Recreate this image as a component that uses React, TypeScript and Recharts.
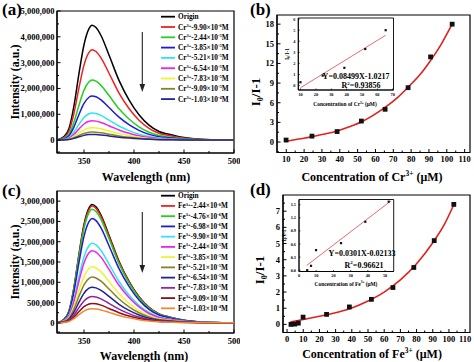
import React from 'react';
import {
  LineChart,
  ComposedChart,
  Line,
  Scatter,
  XAxis,
  YAxis,
  ReferenceArea,
} from 'recharts';

const FONT = '"Liberation Serif", "Times New Roman", serif';

// ---------- Panel (a): Cr3+ emission spectra ----------
const wavelengths = [323, 330, 335, 340, 345, 350, 355, 358, 362, 367, 375, 385, 395, 405, 415, 425, 435, 445, 460, 480, 500];

const crOrigin = [0, 134000, 445000, 1335000, 2581000, 3694000, 4317000, 4450000, 4361000, 4050000, 3293000, 2314000, 1558000, 979000, 579000, 334000, 223000, 134000, 53000, 13000, 0];
const cr990e6 = [0, 105000, 350000, 1050000, 2030000, 2905000, 3395000, 3500000, 3430000, 3185000, 2590000, 1820000, 1225000, 770000, 455000, 263000, 175000, 105000, 42000, 11000, 0];
const cr244e5 = [0, 70000, 233000, 699000, 1351000, 1934000, 2260000, 2330000, 2283000, 2120000, 1724000, 1212000, 816000, 513000, 303000, 175000, 117000, 70000, 28000, 7000, 0];
const cr385e5 = [0, 51000, 171000, 513000, 992000, 1419000, 1659000, 1710000, 1676000, 1556000, 1265000, 889000, 599000, 376000, 222000, 128000, 86000, 51000, 21000, 5000, 0];
const cr521e5 = [0, 32000, 105000, 315000, 609000, 872000, 1019000, 1050000, 1029000, 956000, 777000, 546000, 368000, 231000, 137000, 79000, 53000, 32000, 13000, 3000, 0];
const cr654e5 = [0, 23000, 75000, 225000, 435000, 623000, 728000, 750000, 735000, 683000, 555000, 390000, 263000, 165000, 98000, 56000, 38000, 23000, 9000, 2000, 0];
const cr783e5 = [0, 14000, 48000, 144000, 278000, 398000, 466000, 480000, 470000, 437000, 355000, 250000, 168000, 106000, 62000, 36000, 24000, 14000, 6000, 1000, 0];
const cr909e5 = [0, 9000, 31000, 93000, 180000, 257000, 301000, 310000, 304000, 282000, 229000, 161000, 109000, 68000, 40000, 23000, 16000, 9000, 4000, 1000, 0];
const cr103e4 = [0, 7000, 22000, 66000, 128000, 183000, 213000, 220000, 216000, 200000, 163000, 114000, 77000, 48000, 29000, 17000, 11000, 7000, 3000, 1000, 0];

const crSeries = [crOrigin, cr990e6, cr244e5, cr385e5, cr521e5, cr654e5, cr783e5, cr909e5, cr103e4];
const crLabels = [
  'Origin',
  'Cr^{3+}-9.90×10^{-6}M',
  'Cr^{3+}-2.44×10^{-5}M',
  'Cr^{3+}-3.85×10^{-5}M',
  'Cr^{3+}-5.21×10^{-5}M',
  'Cr^{3+}-6.54×10^{-5}M',
  'Cr^{3+}-7.83×10^{-5}M',
  'Cr^{3+}-9.09×10^{-5}M',
  'Cr^{3+}-1.03×10^{-4}M',
];
const crColors = ['#000000', '#f02020', '#22d022', '#1c1cd0', '#30e4f0', '#ee22ee', '#f2f230', '#84842a', '#24248e'];
const crYTicks = [0, 1000000, 2000000, 3000000, 4000000, 5000000];
const crYMinor = [500000, 1500000, 2500000, 3500000, 4500000];

// ---------- Panel (c): Fe3+ emission spectra ----------
const feOrigin = [0, 88000, 292000, 876000, 1694000, 2424000, 2832000, 2920000, 2862000, 2657000, 2161000, 1518000, 1022000, 642000, 380000, 219000, 146000, 88000, 35000, 9000, 0];
const fe244e6 = [0, 86000, 288000, 864000, 1670000, 2390000, 2794000, 2880000, 2822000, 2621000, 2131000, 1498000, 1008000, 634000, 374000, 216000, 144000, 86000, 35000, 9000, 0];
const fe476e6 = [0, 84000, 280000, 840000, 1624000, 2324000, 2716000, 2800000, 2744000, 2548000, 2072000, 1456000, 980000, 616000, 364000, 210000, 140000, 84000, 34000, 8000, 0];
const fe698e6 = [0, 77000, 257000, 771000, 1491000, 2133000, 2493000, 2570000, 2519000, 2339000, 1902000, 1336000, 900000, 565000, 334000, 193000, 129000, 77000, 31000, 8000, 0];
const fe990e6 = [0, 59000, 196000, 588000, 1137000, 1627000, 1901000, 1960000, 1921000, 1784000, 1450000, 1019000, 686000, 431000, 255000, 147000, 98000, 59000, 24000, 6000, 0];
const fe244e5 = [0, 53000, 178000, 534000, 1032000, 1477000, 1727000, 1780000, 1744000, 1620000, 1317000, 926000, 623000, 392000, 231000, 134000, 89000, 53000, 21000, 5000, 0];
const fe385e5 = [0, 41000, 138000, 414000, 800000, 1145000, 1339000, 1380000, 1352000, 1256000, 1021000, 718000, 483000, 304000, 179000, 104000, 69000, 41000, 17000, 4000, 0];
const fe521e5 = [0, 34000, 113000, 339000, 655000, 938000, 1096000, 1130000, 1107000, 1028000, 836000, 588000, 396000, 249000, 147000, 85000, 57000, 34000, 14000, 3000, 0];
const fe654e5 = [0, 26000, 88000, 264000, 510000, 730000, 854000, 880000, 862000, 801000, 651000, 458000, 308000, 194000, 114000, 66000, 44000, 26000, 11000, 3000, 0];
const fe783e5 = [0, 20000, 65000, 195000, 377000, 540000, 631000, 650000, 637000, 592000, 481000, 338000, 228000, 143000, 85000, 49000, 33000, 20000, 8000, 2000, 0];
const fe909e5 = [0, 14000, 48000, 144000, 278000, 398000, 466000, 480000, 470000, 437000, 355000, 250000, 168000, 106000, 62000, 36000, 24000, 14000, 6000, 1000, 0];
const fe103e4 = [0, 11000, 35000, 105000, 203000, 291000, 340000, 350000, 343000, 319000, 259000, 182000, 123000, 77000, 46000, 26000, 18000, 11000, 4000, 1000, 0];

const feSeries = [feOrigin, fe244e6, fe476e6, fe698e6, fe990e6, fe244e5, fe385e5, fe521e5, fe654e5, fe783e5, fe909e5, fe103e4];
const feLabels = [
  'Origin',
  'Fe^{3+}-2.44×10^{-6}M',
  'Fe^{3+}-4.76×10^{-6}M',
  'Fe^{3+}-6.98×10^{-6}M',
  'Fe^{3+}-9.90×10^{-6}M',
  'Fe^{3+}-2.44×10^{-5}M',
  'Fe^{3+}-3.85×10^{-5}M',
  'Fe^{3+}-5.21×10^{-5}M',
  'Fe^{3+}-6.54×10^{-5}M',
  'Fe^{3+}-7.83×10^{-5}M',
  'Fe^{3+}-9.09×10^{-5}M',
  'Fe^{3+}-1.03×10^{-4}M',
];
const feColors = ['#000000', '#f02020', '#22d022', '#1c1cd0', '#30e4f0', '#ee22ee', '#f2f230', '#84842a', '#24248e', '#9424a4', '#8a1020', '#f08a30'];
const feYTicks = [0, 500000, 1000000, 1500000, 2000000, 2500000, 3000000];
const feYMinor = [250000, 750000, 1250000, 1750000, 2250000, 2750000];
const waveTicks = [350, 400, 450, 500];
const waveMinor = [325, 375, 425, 475];

// ---------- Panel (b): Cr3+ I0/I-1 ----------
const crConc = [9.9, 24.4, 38.5, 52.1, 65.4, 78.3, 90.9, 103];
const crRatio = [0.3, 0.9, 1.6, 3.2, 5.0, 8.3, 13.0, 18.0];
const crFitX = [10, 17, 24.4, 31, 38.5, 45, 52, 58, 65, 72, 78, 85, 91, 97, 103];
const crFitY = [0.1, 0.45, 0.8, 1.2, 1.7, 2.3, 3.05, 3.95, 5.2, 6.7, 8.3, 10.3, 12.5, 15.0, 18.0];
const crXTicks = [10, 20, 30, 40, 50, 60, 70, 80, 90, 100, 110];
const crXMinor = [15, 25, 35, 45, 55, 65, 75, 85, 95, 105];
const crRatioTicks = [0, 3, 6, 9, 12, 15, 18];
const crRatioMinor = [-1.5, 1.5, 4.5, 7.5, 10.5, 13.5, 16.5];
// inset (b)
const crInsetX = [9.9, 24.4, 38.5, 52.1, 65.4];
const crInsetY = [0.3, 0.9, 1.6, 3.3, 5.0];
const crInsetLineX = [9.9, 65.4];
const crInsetLineY = [-0.2, 4.54];
const crInsetXTicks = [10, 20, 30, 40, 50, 60, 70];
const crInsetYTicks = [0, 1, 2, 3, 4, 5, 6];

// ---------- Panel (d): Fe3+ I0/I-1 ----------
const feConc = [2.44, 4.76, 6.98, 9.9, 24.4, 38.5, 52.1, 65.4, 78.3, 90.9, 103];
const feRatio = [0.0, 0.02, 0.08, 0.45, 0.62, 1.08, 1.55, 2.28, 3.52, 5.18, 7.42];
const feFitX = [2, 10, 20, 30, 40, 50, 60, 70, 80, 90, 97, 103];
const feFitY = [0.15, 0.3, 0.5, 0.72, 1.02, 1.45, 2.0, 2.75, 3.75, 5.05, 6.15, 7.4];
const feXTicks = [0, 10, 20, 30, 40, 50, 60, 70, 80, 90, 100, 110];
const feXMinor = [5, 15, 25, 35, 45, 55, 65, 75, 85, 95, 105];
const feRatioTicks = [0, 1, 2, 3, 4, 5, 6, 7];
const feRatioMinor = [0.5, 1.5, 2.5, 3.5, 4.5, 5.5, 6.5, 7.5];
// inset (d)
const feInsetX = [4.76, 6.98, 9.9, 24.4, 38.5, 52.1];
const feInsetY = [0.0, 0.1, 0.46, 0.62, 1.11, 1.57];
const feInsetLineX = [4.5, 53.5];
const feInsetLineY = [0.11, 1.59];
const feInsetXTicks = [0, 10, 20, 30, 40, 50];
const feInsetYTicks = [0, 0.3, 0.6, 0.9, 1.2, 1.5];

// ---------- helpers ----------
type Seg = { t: string; k: 'n' | 'sup' | 'sub' };
function parseRich(s: string): Seg[] {
  const out: Seg[] = [];
  const re = /\^\{([^}]*)\}|_\{([^}]*)\}/g;
  let last = 0;
  let m: RegExpExecArray | null;
  while ((m = re.exec(s))) {
    if (m.index > last) out.push({ t: s.slice(last, m.index), k: 'n' });
    if (m[1] !== undefined) out.push({ t: m[1], k: 'sup' });
    else out.push({ t: m[2], k: 'sub' });
    last = re.lastIndex;
  }
  if (last < s.length) out.push({ t: s.slice(last), k: 'n' });
  return out;
}

function Rich(props: { x: number; y: number; text: string; size: number; anchor?: string; rotate?: number; weight?: string | number; fill?: string }) {
  const { x, y, text, size, anchor = 'start', rotate, weight = 700, fill = '#000' } = props;
  const segs = parseRich(text);
  let cur = 0;
  const spans = segs.map((sg, i) => {
    const target = sg.k === 'sup' ? -0.4 * size : sg.k === 'sub' ? 0.25 * size : 0;
    const dy = target - cur;
    cur = target;
    return (
      <tspan key={i} dy={dy} fontSize={sg.k === 'n' ? size : size * 0.62}>
        {sg.t}
      </tspan>
    );
  });
  return (
    <text
      x={x}
      y={y}
      fontSize={size}
      fontWeight={weight as any}
      fontFamily={FONT}
      textAnchor={anchor as any}
      fill={fill}
      transform={rotate ? `rotate(${rotate} ${x} ${y})` : undefined}
    >
      {spans}
    </text>
  );
}

const tickStyle = (size: number) => ({ fontSize: size, fontWeight: 700, fontFamily: FONT, fill: '#000' });
const axisLine = { stroke: '#000', strokeWidth: 1.2 };

const isIn = (arr: number[], v: number) => arr.some((t) => Math.abs(t - v) < 1e-9);

// custom tick renderers: tickSize=0, tickMargin=0 so (x,y) is the point on the axis line
function makeBottomTick(majors: number[], fmt: (v: number) => string, fs: number, gap: number, majorLen: number, minorLen: number) {
  return (p: any) => {
    const v = p.payload.value;
    const major = isIn(majors, v);
    return (
      <g>
        <line x1={p.x} x2={p.x} y1={p.y} y2={p.y - (major ? majorLen : minorLen)} stroke="#000" strokeWidth={1} />
        {major && (
          <text x={p.x} y={p.y + gap} dy="0.71em" textAnchor="middle" style={tickStyle(fs)}>
            {fmt(v)}
          </text>
        )}
      </g>
    );
  };
}
function makeLeftTick(majors: number[], fmt: (v: number) => string, fs: number, gap: number, majorLen: number, minorLen: number) {
  return (p: any) => {
    const v = p.payload.value;
    const major = isIn(majors, v);
    return (
      <g>
        <line x1={p.x} x2={p.x + (major ? majorLen : minorLen)} y1={p.y} y2={p.y} stroke="#000" strokeWidth={1} />
        {major && (
          <text x={p.x - gap} y={p.y} dy="0.355em" textAnchor="end" style={tickStyle(fs)}>
            {fmt(v)}
          </text>
        )}
      </g>
    );
  };
}

const fmtComma = (v: number) => v.toLocaleString('en-US');
const fmtPlain = (v: number) => String(v);

function SpectraPanel(props: { top: number; series: number[][]; colors: string[]; yDomain: [number, number]; yTicks: number[]; yMinor: number[] }) {
  const { top, series, colors, yDomain, yTicks, yMinor } = props;
  const data = wavelengths.map((w, i) => {
    const row: Record<string, number> = { w };
    series.forEach((s, j) => {
      row['s' + j] = s[i];
    });
    return row;
  });
  return (
    <div style={{ position: 'absolute', left: 0, top, width: 240, height: 175 }}>
      <LineChart width={240} height={175} data={data} margin={{ top: 11, right: 6, bottom: 0, left: 0 }}>
        <XAxis
          dataKey="w"
          type="number"
          domain={[323, 500]}
          ticks={[...waveTicks, ...waveMinor].sort((a, b) => a - b)}
          allowDataOverflow
          interval={0}
          height={22}
          tickSize={0}
          tickMargin={0}
          tickLine={false}
          tick={makeBottomTick(waveTicks, fmtPlain, 8.5, 5, 3.5, 2)}
          axisLine={axisLine}
        />
        <YAxis
          type="number"
          domain={yDomain}
          ticks={[...yTicks, ...yMinor].sort((a, b) => a - b)}
          allowDataOverflow
          interval={0}
          width={57}
          tickSize={0}
          tickMargin={0}
          tickLine={false}
          tick={makeLeftTick(yTicks, fmtComma, 8.5, 2.5, 3.5, 2)}
          axisLine={axisLine}
        />
        <ReferenceArea x1={323} x2={500} y1={yDomain[0]} y2={yDomain[1]} fill="none" stroke="#000" strokeWidth={1.2} ifOverflow="visible" />
        {series.map((_, j) => (
          <Line
            key={j}
            dataKey={'s' + j}
            stroke={colors[j]}
            strokeWidth={1.5}
            dot={false}
            type="monotone"
            isAnimationActive={false}
          />
        ))}
      </LineChart>
    </div>
  );
}

function toPts(xs: number[], ys: number[]) {
  return xs.map((x, i) => ({ x, y: ys[i] }));
}

function FitPanel(props: {
  top: number;
  yAxisWidth: number;
  xDomain: [number, number];
  yDomain: [number, number];
  xTicks: number[];
  xMinor: number[];
  yTicks: number[];
  yMinor: number[];
  pts: { x: number; y: number }[];
  fit: { x: number; y: number }[];
}) {
  const { top, yAxisWidth, xDomain, yDomain, xTicks, xMinor, yTicks, yMinor, pts, fit } = props;
  const sq = (p: any) => <rect x={p.cx - 2.4} y={p.cy - 2.4} width={4.8} height={4.8} fill="#111" />;
  const inDom = (arr: number[], d: [number, number]) => arr.filter((v) => v > d[0] && v < d[1]);
  return (
    <div style={{ position: 'absolute', left: 237, top, width: 237, height: 175 }}>
      <ComposedChart width={237} height={175} margin={{ top: 15, right: 4, bottom: 0, left: 0 }}>
        <XAxis
          dataKey="x"
          type="number"
          domain={xDomain}
          ticks={[...xTicks, ...inDom(xMinor, xDomain)].sort((a, b) => a - b)}
          allowDataOverflow
          interval={0}
          height={175 - 15 - 137.5}
          tickSize={0}
          tickMargin={0}
          tickLine={false}
          tick={makeBottomTick(xTicks, fmtPlain, 8.5, 3, 3.5, 2)}
          axisLine={axisLine}
        />
        <YAxis
          dataKey="y"
          type="number"
          domain={yDomain}
          ticks={[...yTicks, ...inDom(yMinor, yDomain)].sort((a, b) => a - b)}
          allowDataOverflow
          interval={0}
          width={yAxisWidth}
          tickSize={0}
          tickMargin={0}
          tickLine={false}
          tick={makeLeftTick(yTicks, fmtPlain, 8.5, 3, 3.5, 2)}
          axisLine={axisLine}
        />
        <ReferenceArea x1={xDomain[0]} x2={xDomain[1]} y1={yDomain[0]} y2={yDomain[1]} fill="none" stroke="#000" strokeWidth={1.2} ifOverflow="visible" />
        <Line data={fit} dataKey="y" stroke="#e2211c" strokeWidth={1.6} dot={false} type="monotone" isAnimationActive={false} />
        <Scatter data={pts} dataKey="y" fill="#111" shape={sq} isAnimationActive={false} />
      </ComposedChart>
    </div>
  );
}

function InsetPanel(props: {
  left: number;
  top: number;
  width: number;
  height: number;
  margin: { top: number; right: number };
  yAxisWidth: number;
  xAxisHeight: number;
  xDomain: [number, number];
  yDomain: [number, number];
  xTicks: number[];
  yTicks: number[];
  yFmt?: (v: number) => string;
  pts: { x: number; y: number }[];
  line: { x: number; y: number }[];
}) {
  const p = props;
  const dotShape = (s: any) => <rect x={s.cx - 1.1} y={s.cy - 1.1} width={2.2} height={2.2} fill="#111" />;
  return (
    <div style={{ position: 'absolute', left: p.left, top: p.top, width: p.width, height: p.height }}>
      <ComposedChart width={p.width} height={p.height} margin={{ top: p.margin.top, right: p.margin.right, bottom: 0, left: 0 }}>
        <ReferenceArea x1={p.xDomain[0]} x2={p.xDomain[1]} y1={p.yDomain[0]} y2={p.yDomain[1]} fill="#fff" fillOpacity={1} stroke="#000" strokeWidth={0.9} ifOverflow="visible" />
        <XAxis
          dataKey="x"
          type="number"
          domain={p.xDomain}
          ticks={p.xTicks}
          allowDataOverflow
          interval={0}
          height={p.xAxisHeight}
          tickSize={-1.5}
          tickMargin={4}
          tick={tickStyle(4.3)}
          axisLine={{ stroke: '#000', strokeWidth: 0.9 }}
          tickLine={{ stroke: '#000', strokeWidth: 0.7 }}
        />
        <YAxis
          dataKey="y"
          type="number"
          domain={p.yDomain}
          ticks={p.yTicks}
          allowDataOverflow
          interval={0}
          width={p.yAxisWidth}
          tickSize={-1.5}
          tickMargin={4.5}
          tick={tickStyle(4.3)}
          axisLine={{ stroke: '#000', strokeWidth: 0.9 }}
          tickLine={{ stroke: '#000', strokeWidth: 0.7 }}
          tickFormatter={p.yFmt}
        />
        <Line data={p.line} dataKey="y" stroke="#e25a5a" strokeWidth={0.9} dot={false} type="linear" isAnimationActive={false} />
        <Scatter data={p.pts} dataKey="y" fill="#111" shape={dotShape} isAnimationActive={false} />
      </ComposedChart>
    </div>
  );
}

function Legend(props: { x: number; y0: number; step: number; labels: string[]; colors: string[] }) {
  const { x, y0, step, labels, colors } = props;
  return (
    <g>
      {labels.map((lab, i) => {
        const y = y0 + i * step;
        return (
          <g key={i}>
            <line x1={x} x2={x + 14} y1={y} y2={y} stroke={colors[i]} strokeWidth={1.8} />
            <Rich x={x + 17} y={y + 2.5} text={lab} size={7.3} />
          </g>
        );
      })}
    </g>
  );
}

function Arrow(props: { x: number; y1: number; y2: number }) {
  const { x, y1, y2 } = props;
  return (
    <g>
      <line x1={x} x2={x} y1={y1} y2={y2 - 6} stroke="#222" strokeWidth={1.1} />
      <polygon points={`${x - 2.8},${y2 - 8} ${x + 2.8},${y2 - 8} ${x},${y2}`} fill="#222" />
    </g>
  );
}

export default function App() {
  return (
    <div style={{ position: 'absolute', left: 0, top: 0, width: 474, height: 362, background: '#fff', overflow: 'hidden' }}>
      <SpectraPanel top={0} series={crSeries} colors={crColors} yDomain={[-500000, 5000000]} yTicks={crYTicks} yMinor={crYMinor} />
      <SpectraPanel top={180} series={feSeries} colors={feColors} yDomain={[-250000, 3250000]} yTicks={feYTicks} yMinor={feYMinor} />
      <FitPanel
        top={0}
        yAxisWidth={40}
        xDomain={[4.8, 113]}
        yDomain={[-1.6, 19.4]}
        xTicks={crXTicks}
        xMinor={crXMinor}
        yTicks={crRatioTicks}
        yMinor={crRatioMinor}
        pts={toPts(crConc, crRatio)}
        fit={toPts(crFitX, crFitY)}
      />
      <FitPanel
        top={180}
        yAxisWidth={46}
        xDomain={[-2.5, 113]}
        yDomain={[-0.5, 8]}
        xTicks={feXTicks}
        xMinor={feXMinor}
        yTicks={feRatioTicks}
        yMinor={feRatioMinor}
        pts={toPts(feConc, feRatio)}
        fit={toPts(feFitX, feFitY)}
      />
      <InsetPanel
        left={280}
        top={14}
        width={116}
        height={96}
        margin={{ top: 4, right: 2.5 }}
        yAxisWidth={18.3}
        xAxisHeight={20}
        xDomain={[8.5, 70.5]}
        yDomain={[-0.4, 6.1]}
        xTicks={crInsetXTicks}
        yTicks={crInsetYTicks}
        pts={toPts(crInsetX, crInsetY)}
        line={toPts(crInsetLineX, crInsetLineY)}
      />
      <InsetPanel
        left={280}
        top={194}
        width={116}
        height={94}
        margin={{ top: 5.5, right: 2.3 }}
        yAxisWidth={19}
        xAxisHeight={16.5}
        xDomain={[0, 55]}
        yDomain={[-0.03, 1.62]}
        xTicks={feInsetXTicks}
        yTicks={feInsetYTicks}
        yFmt={(v: number) => v.toFixed(1)}
        pts={toPts(feInsetX, feInsetY)}
        line={toPts(feInsetLineX, feInsetLineY)}
      />
      <svg width={474} height={362} style={{ position: 'absolute', left: 0, top: 0, pointerEvents: 'none' }}>
        {/* panel letters */}
        <Rich x={2} y={15} text="(a)" size={17} />
        <Rich x={250} y={15} text="(b)" size={17} />
        <Rich x={2} y={196} text="(c)" size={17} />
        <Rich x={250} y={194.5} text="(d)" size={17} />

        {/* axis titles */}
        <Rich x={146} y={180.5} text="Wavelength (nm)" size={12} anchor="middle" />
        <Rich x={144} y={359.5} text="Wavelength (nm)" size={12} anchor="middle" />
        <Rich x={19} y={82} text="Intensity (a.u.)" size={12} anchor="middle" rotate={-90} />
        <Rich x={19} y={262} text="Intensity (a.u.)" size={12} anchor="middle" rotate={-90} />
        <Rich x={372} y={180.5} text="Concentration of Cr^{3+} (μM)" size={12} anchor="middle" />
        <Rich x={372} y={357.5} text="Concentration of Fe^{3+} (μM)" size={12} anchor="middle" />
        <Rich x={260} y={92} text="I_{0}/I-1" size={13} anchor="middle" rotate={-90} />
        <Rich x={264} y={270} text="I_{0}/I-1" size={13} anchor="middle" rotate={-90} />

        {/* legends */}
        <Legend x={161} y0={16.7} step={10.3} labels={crLabels} colors={crColors} />
        <Legend x={161} y0={195.7} step={10.24} labels={feLabels} colors={feColors} />

        {/* arrows */}
        <Arrow x={142.3} y1={32} y2={92} />
        <Arrow x={142.3} y1={212} y2={273} />

        {/* inset (b) text */}
        <Rich x={356} y={78.5} text="Y=0.08499X-1.0217" size={8} anchor="middle" />
        <Rich x={361} y={88} text="R^{2}=0.93856" size={8} anchor="middle" />
        <Rich x={345} y={106} text="Concentration of Cr^{3+} (μM)" size={5.4} anchor="middle" />
        <Rich x={288.5} y={54} text="I_{0}/I-1" size={5.4} anchor="middle" rotate={-90} />

        {/* inset (d) text */}
        <Rich x={362} y={256} text="Y=0.0301X-0.02133" size={8} anchor="middle" />
        <Rich x={364} y={267.5} text="R^{2}=0.96621" size={8} anchor="middle" />
        <Rich x={346} y={285.5} text="Concentration of Fe^{3+} (μM)" size={5.4} anchor="middle" />
        <Rich x={286} y={235.5} text="I_{0}/I-1" size={5.4} anchor="middle" rotate={-90} />
      </svg>
    </div>
  );
}
